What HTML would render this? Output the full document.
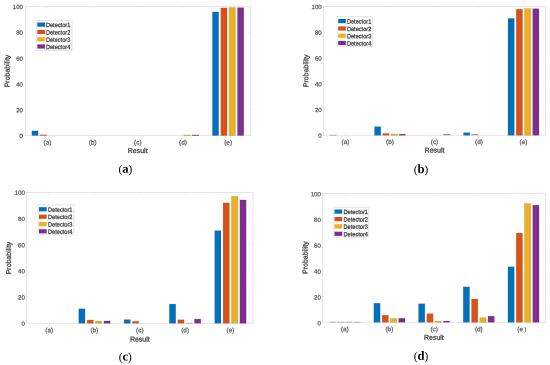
<!DOCTYPE html>
<html><head><meta charset="utf-8"><title>Detector probability charts</title>
<style>html,body{margin:0;padding:0;background:#fff}svg{display:block}text{text-rendering:geometricPrecision;stroke-linejoin:round}.s text{stroke:#484848;stroke-width:.3px;paint-order:stroke}.t text{stroke:#5a5a5a;stroke-width:.25px;fill:#5a5a5a}</style></head>
<body>
<svg width="550" height="365" viewBox="0 0 550 365">
<rect width="550" height="365" fill="#fff"/>
<g fill="none" stroke="#e5e5e5" stroke-width="1">
<rect x="25.40" y="6.50" width="224.80" height="129.05"/>
<path d="M47.50 135.55v-2.0M47.50 6.50v2.0M92.65 135.55v-2.0M92.65 6.50v2.0M137.80 135.55v-2.0M137.80 6.50v2.0M182.95 135.55v-2.0M182.95 6.50v2.0M228.10 135.55v-2.0M228.10 6.50v2.0M25.40 109.74h2.0M250.20 109.74h-2.0M25.40 83.93h2.0M250.20 83.93h-2.0M25.40 58.12h2.0M250.20 58.12h-2.0M25.40 32.31h2.0M250.20 32.31h-2.0" stroke-width=".6"/>
</g>
<rect x="31.82" y="130.90" width="6.30" height="4.65" fill="#0072BD" stroke="#000" stroke-opacity=".15" stroke-width=".7"/>
<rect x="39.87" y="134.65" width="6.90" height="1.10" fill="#d7602a"/>
<rect x="183.68" y="134.80" width="6.90" height="1.00" fill="#c9a23a"/>
<rect x="192.03" y="134.80" width="6.90" height="1.00" fill="#8a3f99"/>
<rect x="212.42" y="11.92" width="6.30" height="123.63" fill="#0072BD" stroke="#000" stroke-opacity=".15" stroke-width=".7"/>
<rect x="220.77" y="7.92" width="6.30" height="127.63" fill="#D95319" stroke="#000" stroke-opacity=".15" stroke-width=".7"/>
<rect x="229.13" y="7.53" width="6.30" height="128.02" fill="#EDB120" stroke="#000" stroke-opacity=".15" stroke-width=".7"/>
<rect x="237.48" y="7.66" width="6.30" height="127.89" fill="#7E2F8E" stroke="#000" stroke-opacity=".15" stroke-width=".7"/>
<g class="s t" font-family="'Liberation Sans', Arial, sans-serif" font-size="6.1" fill="#484848">
<text transform="translate(23.00 138.10) rotate(0.06)" text-anchor="end">0</text>
<text transform="translate(23.00 112.29) rotate(0.06)" text-anchor="end">20</text>
<text transform="translate(23.00 86.48) rotate(0.06)" text-anchor="end">40</text>
<text transform="translate(23.00 60.67) rotate(0.06)" text-anchor="end">60</text>
<text transform="translate(23.00 34.86) rotate(0.06)" text-anchor="end">80</text>
<text transform="translate(23.00 9.05) rotate(0.06)" text-anchor="end">100</text>
<text transform="translate(47.50 144.50) rotate(0.06)" text-anchor="middle" font-size="6.4">(a)</text>
<text transform="translate(92.65 144.50) rotate(0.06)" text-anchor="middle" font-size="6.4">(b)</text>
<text transform="translate(137.80 144.50) rotate(0.06)" text-anchor="middle" font-size="6.4">(c)</text>
<text transform="translate(182.95 144.50) rotate(0.06)" text-anchor="middle" font-size="6.4">(d)</text>
<text transform="translate(228.10 144.50) rotate(0.06)" text-anchor="middle" font-size="6.4">(e)</text>
</g>
<g class="s" font-family="'Liberation Sans', Arial, sans-serif" font-size="7" fill="#484848">
<text transform="translate(137.70 152.95) rotate(0.06)" text-anchor="middle">Result</text>
<text transform="translate(9.45 71.00) rotate(-90.06)" text-anchor="middle">Probability</text>
</g>
<rect x="36.40" y="20.40" width="35.60" height="30.10" fill="#fff" stroke="#e5e5e5" stroke-width="1"/>
<g class="s" font-family="'Liberation Sans', Arial, sans-serif" font-size="6.1" fill="#484848">
<rect x="37.30" y="22.50" width="7.70" height="4.2" fill="#0072BD"/>
<text transform="translate(45.90 27.00) rotate(0.06)" textLength="24.4" lengthAdjust="spacingAndGlyphs">Detector1</text>
<rect x="37.30" y="29.90" width="7.70" height="4.2" fill="#D95319"/>
<text transform="translate(45.90 34.40) rotate(0.06)" textLength="24.4" lengthAdjust="spacingAndGlyphs">Detector2</text>
<rect x="37.30" y="37.20" width="7.70" height="4.2" fill="#EDB120"/>
<text transform="translate(45.90 41.70) rotate(0.06)" textLength="24.4" lengthAdjust="spacingAndGlyphs">Detector3</text>
<rect x="37.30" y="44.40" width="7.70" height="4.2" fill="#7E2F8E"/>
<text transform="translate(45.90 48.90) rotate(0.06)" textLength="24.4" lengthAdjust="spacingAndGlyphs">Detector4</text>
</g>
<text transform="translate(125.40 172.80) rotate(0.06)" text-anchor="middle" font-family="'Liberation Serif', 'DejaVu Serif', serif" font-size="11.3" fill="#000">(<tspan font-weight="bold" font-size="12.6">a</tspan>)</text>
<g fill="none" stroke="#e5e5e5" stroke-width="1">
<rect x="323.40" y="6.50" width="222.00" height="128.80"/>
<path d="M345.50 135.30v-2.0M345.50 6.50v2.0M390.00 135.30v-2.0M390.00 6.50v2.0M434.50 135.30v-2.0M434.50 6.50v2.0M479.00 135.30v-2.0M479.00 6.50v2.0M523.50 135.30v-2.0M523.50 6.50v2.0M323.40 109.54h2.0M545.40 109.54h-2.0M323.40 83.78h2.0M545.40 83.78h-2.0M323.40 58.02h2.0M545.40 58.02h-2.0M323.40 32.26h2.0M545.40 32.26h-2.0" stroke-width=".6"/>
</g>
<rect x="329.70" y="134.85" width="6.90" height="0.8" fill="#a9a9a9"/>
<rect x="374.50" y="126.67" width="6.30" height="8.63" fill="#0072BD" stroke="#000" stroke-opacity=".15" stroke-width=".7"/>
<rect x="382.73" y="133.50" width="6.30" height="1.80" fill="#D95319" stroke="#000" stroke-opacity=".15" stroke-width=".7"/>
<rect x="390.97" y="133.88" width="6.30" height="1.42" fill="#EDB120" stroke="#000" stroke-opacity=".15" stroke-width=".7"/>
<rect x="399.20" y="134.14" width="6.30" height="1.16" fill="#7E2F8E" stroke="#000" stroke-opacity=".15" stroke-width=".7"/>
<rect x="443.40" y="133.90" width="6.90" height="1.30" fill="#a87fb2"/>
<rect x="463.50" y="132.72" width="6.30" height="2.58" fill="#0072BD" stroke="#000" stroke-opacity=".15" stroke-width=".7"/>
<rect x="471.43" y="133.90" width="6.90" height="1.30" fill="#c59e86"/>
<rect x="508.00" y="18.48" width="6.30" height="116.82" fill="#0072BD" stroke="#000" stroke-opacity=".15" stroke-width=".7"/>
<rect x="516.23" y="9.20" width="6.30" height="126.10" fill="#D95319" stroke="#000" stroke-opacity=".15" stroke-width=".7"/>
<rect x="524.47" y="8.56" width="6.30" height="126.74" fill="#EDB120" stroke="#000" stroke-opacity=".15" stroke-width=".7"/>
<rect x="532.70" y="8.69" width="6.30" height="126.61" fill="#7E2F8E" stroke="#000" stroke-opacity=".15" stroke-width=".7"/>
<g class="s t" font-family="'Liberation Sans', Arial, sans-serif" font-size="6.1" fill="#484848">
<text transform="translate(321.70 137.85) rotate(0.06)" text-anchor="end">0</text>
<text transform="translate(321.70 112.09) rotate(0.06)" text-anchor="end">20</text>
<text transform="translate(321.70 86.33) rotate(0.06)" text-anchor="end">40</text>
<text transform="translate(321.70 60.57) rotate(0.06)" text-anchor="end">60</text>
<text transform="translate(321.70 34.81) rotate(0.06)" text-anchor="end">80</text>
<text transform="translate(321.70 9.05) rotate(0.06)" text-anchor="end">100</text>
<text transform="translate(345.50 144.00) rotate(0.06)" text-anchor="middle" font-size="6.4">(a)</text>
<text transform="translate(390.00 144.00) rotate(0.06)" text-anchor="middle" font-size="6.4">(b)</text>
<text transform="translate(434.50 144.00) rotate(0.06)" text-anchor="middle" font-size="6.4">(c)</text>
<text transform="translate(479.00 144.00) rotate(0.06)" text-anchor="middle" font-size="6.4">(d)</text>
<text transform="translate(523.50 144.00) rotate(0.06)" text-anchor="middle" font-size="6.4">(e)</text>
</g>
<g class="s" font-family="'Liberation Sans', Arial, sans-serif" font-size="7" fill="#484848">
<text transform="translate(434.50 152.60) rotate(0.06)" text-anchor="middle">Result</text>
<text transform="translate(308.15 70.80) rotate(-90.06)" text-anchor="middle">Probability</text>
</g>
<rect x="337.30" y="16.50" width="35.40" height="29.90" fill="#fff" stroke="#e5e5e5" stroke-width="1"/>
<g class="s" font-family="'Liberation Sans', Arial, sans-serif" font-size="6.1" fill="#484848">
<rect x="338.20" y="19.00" width="7.70" height="4.2" fill="#0072BD"/>
<text transform="translate(346.90 23.50) rotate(0.06)" textLength="24.4" lengthAdjust="spacingAndGlyphs">Detector1</text>
<rect x="338.20" y="26.40" width="7.70" height="4.2" fill="#D95319"/>
<text transform="translate(346.90 30.90) rotate(0.06)" textLength="24.4" lengthAdjust="spacingAndGlyphs">Detector2</text>
<rect x="338.20" y="33.70" width="7.70" height="4.2" fill="#EDB120"/>
<text transform="translate(346.90 38.20) rotate(0.06)" textLength="24.4" lengthAdjust="spacingAndGlyphs">Detector3</text>
<rect x="338.20" y="40.90" width="7.70" height="4.2" fill="#7E2F8E"/>
<text transform="translate(346.90 45.40) rotate(0.06)" textLength="24.4" lengthAdjust="spacingAndGlyphs">Detector4</text>
</g>
<text transform="translate(420.90 172.90) rotate(0.06)" text-anchor="middle" font-family="'Liberation Serif', 'DejaVu Serif', serif" font-size="11.3" fill="#000">(<tspan font-weight="bold" font-size="12.6">b</tspan>)</text>
<g fill="none" stroke="#e5e5e5" stroke-width="1">
<rect x="26.50" y="192.50" width="226.60" height="130.80"/>
<path d="M49.16 323.30v-2.0M49.16 192.50v2.0M94.48 323.30v-2.0M94.48 192.50v2.0M139.80 323.30v-2.0M139.80 192.50v2.0M185.12 323.30v-2.0M185.12 192.50v2.0M230.44 323.30v-2.0M230.44 192.50v2.0M26.50 297.14h2.0M253.10 297.14h-2.0M26.50 270.98h2.0M253.10 270.98h-2.0M26.50 244.82h2.0M253.10 244.82h-2.0M26.50 218.66h2.0M253.10 218.66h-2.0" stroke-width=".6"/>
</g>
<rect x="78.75" y="308.78" width="6.30" height="14.52" fill="#0072BD" stroke="#000" stroke-opacity=".15" stroke-width=".7"/>
<rect x="87.14" y="320.03" width="6.30" height="3.27" fill="#D95319" stroke="#000" stroke-opacity=".15" stroke-width=".7"/>
<rect x="95.52" y="321.08" width="6.30" height="2.22" fill="#EDB120" stroke="#000" stroke-opacity=".15" stroke-width=".7"/>
<rect x="103.91" y="320.95" width="6.30" height="2.35" fill="#7E2F8E" stroke="#000" stroke-opacity=".15" stroke-width=".7"/>
<rect x="124.07" y="319.64" width="6.30" height="3.66" fill="#0072BD" stroke="#000" stroke-opacity=".15" stroke-width=".7"/>
<rect x="132.46" y="321.34" width="6.30" height="1.96" fill="#D95319" stroke="#000" stroke-opacity=".15" stroke-width=".7"/>
<rect x="169.39" y="304.07" width="6.30" height="19.23" fill="#0072BD" stroke="#000" stroke-opacity=".15" stroke-width=".7"/>
<rect x="177.78" y="319.77" width="6.30" height="3.53" fill="#D95319" stroke="#000" stroke-opacity=".15" stroke-width=".7"/>
<rect x="185.86" y="322.85" width="6.90" height="0.8" fill="#c9ae62"/>
<rect x="194.55" y="319.11" width="6.30" height="4.19" fill="#7E2F8E" stroke="#000" stroke-opacity=".15" stroke-width=".7"/>
<rect x="214.71" y="230.69" width="6.30" height="92.61" fill="#0072BD" stroke="#000" stroke-opacity=".15" stroke-width=".7"/>
<rect x="223.10" y="202.83" width="6.30" height="120.47" fill="#D95319" stroke="#000" stroke-opacity=".15" stroke-width=".7"/>
<rect x="231.48" y="196.29" width="6.30" height="127.01" fill="#EDB120" stroke="#000" stroke-opacity=".15" stroke-width=".7"/>
<rect x="239.87" y="199.96" width="6.30" height="123.34" fill="#7E2F8E" stroke="#000" stroke-opacity=".15" stroke-width=".7"/>
<g class="s t" font-family="'Liberation Sans', Arial, sans-serif" font-size="6.1" fill="#484848">
<text transform="translate(24.80 325.65) rotate(0.06)" text-anchor="end">0</text>
<text transform="translate(24.80 299.49) rotate(0.06)" text-anchor="end">20</text>
<text transform="translate(24.80 273.33) rotate(0.06)" text-anchor="end">40</text>
<text transform="translate(24.80 247.17) rotate(0.06)" text-anchor="end">60</text>
<text transform="translate(24.80 221.01) rotate(0.06)" text-anchor="end">80</text>
<text transform="translate(24.80 194.85) rotate(0.06)" text-anchor="end">100</text>
<text transform="translate(49.16 332.30) rotate(0.06)" text-anchor="middle" font-size="6.4">(a)</text>
<text transform="translate(94.48 332.30) rotate(0.06)" text-anchor="middle" font-size="6.4">(b)</text>
<text transform="translate(139.80 332.30) rotate(0.06)" text-anchor="middle" font-size="6.4">(c)</text>
<text transform="translate(185.12 332.30) rotate(0.06)" text-anchor="middle" font-size="6.4">(d)</text>
<text transform="translate(230.44 332.30) rotate(0.06)" text-anchor="middle" font-size="6.4">(e)</text>
</g>
<g class="s" font-family="'Liberation Sans', Arial, sans-serif" font-size="7" fill="#484848">
<text transform="translate(139.80 341.40) rotate(0.06)" text-anchor="middle">Result</text>
<text transform="translate(10.90 258.00) rotate(-90.06)" text-anchor="middle">Probability</text>
</g>
<rect x="38.20" y="204.80" width="35.60" height="29.90" fill="#fff" stroke="#e5e5e5" stroke-width="1"/>
<g class="s" font-family="'Liberation Sans', Arial, sans-serif" font-size="6.1" fill="#484848">
<rect x="39.00" y="207.20" width="7.70" height="4.2" fill="#0072BD"/>
<text transform="translate(48.00 211.70) rotate(0.06)" textLength="24.4" lengthAdjust="spacingAndGlyphs">Detector1</text>
<rect x="39.00" y="214.60" width="7.70" height="4.2" fill="#D95319"/>
<text transform="translate(48.00 219.10) rotate(0.06)" textLength="24.4" lengthAdjust="spacingAndGlyphs">Detector2</text>
<rect x="39.00" y="222.00" width="7.70" height="4.2" fill="#EDB120"/>
<text transform="translate(48.00 226.50) rotate(0.06)" textLength="24.4" lengthAdjust="spacingAndGlyphs">Detector3</text>
<rect x="39.00" y="229.20" width="7.70" height="4.2" fill="#7E2F8E"/>
<text transform="translate(48.00 233.70) rotate(0.06)" textLength="24.4" lengthAdjust="spacingAndGlyphs">Detector4</text>
</g>
<text transform="translate(125.30 360.50) rotate(0.06)" text-anchor="middle" font-family="'Liberation Serif', 'DejaVu Serif', serif" font-size="11.3" fill="#000">(<tspan font-weight="bold" font-size="12.6">c</tspan>)</text>
<g fill="none" stroke="#e5e5e5" stroke-width="1">
<rect x="322.50" y="193.50" width="222.90" height="128.80"/>
<path d="M344.70 322.30v-2.0M344.70 193.50v2.0M389.40 322.30v-2.0M389.40 193.50v2.0M434.10 322.30v-2.0M434.10 193.50v2.0M478.80 322.30v-2.0M478.80 193.50v2.0M523.50 322.30v-2.0M523.50 193.50v2.0M322.50 296.54h2.0M545.40 296.54h-2.0M322.50 270.78h2.0M545.40 270.78h-2.0M322.50 245.02h2.0M545.40 245.02h-2.0M322.50 219.26h2.0M545.40 219.26h-2.0" stroke-width=".6"/>
</g>
<rect x="328.85" y="321.85" width="6.90" height="0.8" fill="#a9a9a9"/>
<rect x="337.12" y="321.85" width="6.90" height="0.8" fill="#b89e90"/>
<rect x="345.38" y="321.85" width="6.90" height="0.8" fill="#a9a9a9"/>
<rect x="353.65" y="321.85" width="6.90" height="0.8" fill="#a9a9a9"/>
<rect x="373.85" y="303.24" width="6.30" height="19.06" fill="#0072BD" stroke="#000" stroke-opacity=".15" stroke-width=".7"/>
<rect x="382.12" y="315.22" width="6.30" height="7.08" fill="#D95319" stroke="#000" stroke-opacity=".15" stroke-width=".7"/>
<rect x="390.38" y="318.56" width="6.30" height="3.74" fill="#EDB120" stroke="#000" stroke-opacity=".15" stroke-width=".7"/>
<rect x="398.65" y="318.31" width="6.30" height="3.99" fill="#7E2F8E" stroke="#000" stroke-opacity=".15" stroke-width=".7"/>
<rect x="418.55" y="303.75" width="6.30" height="18.55" fill="#0072BD" stroke="#000" stroke-opacity=".15" stroke-width=".7"/>
<rect x="426.82" y="313.67" width="6.30" height="8.63" fill="#D95319" stroke="#000" stroke-opacity=".15" stroke-width=".7"/>
<rect x="435.08" y="321.14" width="6.30" height="1.16" fill="#EDB120" stroke="#000" stroke-opacity=".15" stroke-width=".7"/>
<rect x="443.35" y="321.01" width="6.30" height="1.29" fill="#7E2F8E" stroke="#000" stroke-opacity=".15" stroke-width=".7"/>
<rect x="463.25" y="286.88" width="6.30" height="35.42" fill="#0072BD" stroke="#000" stroke-opacity=".15" stroke-width=".7"/>
<rect x="471.52" y="298.99" width="6.30" height="23.31" fill="#D95319" stroke="#000" stroke-opacity=".15" stroke-width=".7"/>
<rect x="479.78" y="317.66" width="6.30" height="4.64" fill="#EDB120" stroke="#000" stroke-opacity=".15" stroke-width=".7"/>
<rect x="488.05" y="316.12" width="6.30" height="6.18" fill="#7E2F8E" stroke="#000" stroke-opacity=".15" stroke-width=".7"/>
<rect x="507.95" y="266.79" width="6.30" height="55.51" fill="#0072BD" stroke="#000" stroke-opacity=".15" stroke-width=".7"/>
<rect x="516.22" y="233.04" width="6.30" height="89.26" fill="#D95319" stroke="#000" stroke-opacity=".15" stroke-width=".7"/>
<rect x="524.48" y="203.55" width="6.30" height="118.75" fill="#EDB120" stroke="#000" stroke-opacity=".15" stroke-width=".7"/>
<rect x="532.75" y="205.22" width="6.30" height="117.08" fill="#7E2F8E" stroke="#000" stroke-opacity=".15" stroke-width=".7"/>
<g class="s t" font-family="'Liberation Sans', Arial, sans-serif" font-size="6.1" fill="#484848">
<text transform="translate(320.90 325.15) rotate(0.06)" text-anchor="end">0</text>
<text transform="translate(320.90 299.39) rotate(0.06)" text-anchor="end">20</text>
<text transform="translate(320.90 273.63) rotate(0.06)" text-anchor="end">40</text>
<text transform="translate(320.90 247.87) rotate(0.06)" text-anchor="end">60</text>
<text transform="translate(320.90 222.11) rotate(0.06)" text-anchor="end">80</text>
<text transform="translate(320.90 196.35) rotate(0.06)" text-anchor="end">100</text>
<text transform="translate(344.70 331.30) rotate(0.06)" text-anchor="middle" font-size="6.4">(a)</text>
<text transform="translate(389.40 331.30) rotate(0.06)" text-anchor="middle" font-size="6.4">(b)</text>
<text transform="translate(434.10 331.30) rotate(0.06)" text-anchor="middle" font-size="6.4">(c)</text>
<text transform="translate(478.80 331.30) rotate(0.06)" text-anchor="middle" font-size="6.4">(d)</text>
<text transform="translate(521.80 331.30) rotate(0.06)" text-anchor="middle" font-size="6.4">(e<tspan dx="1.4" font-size="5.4">)</tspan></text>
</g>
<g class="s" font-family="'Liberation Sans', Arial, sans-serif" font-size="7" fill="#484848">
<text transform="translate(433.90 339.70) rotate(0.06)" text-anchor="middle">Result</text>
<text transform="translate(307.50 257.60) rotate(-90.06)" text-anchor="middle">Probability</text>
</g>
<rect x="333.80" y="207.30" width="35.00" height="29.90" fill="#fff" stroke="#e5e5e5" stroke-width="1"/>
<g class="s" font-family="'Liberation Sans', Arial, sans-serif" font-size="6.1" fill="#484848">
<rect x="334.50" y="209.50" width="7.70" height="4.2" fill="#0072BD"/>
<text transform="translate(343.50 214.00) rotate(0.06)" textLength="24.4" lengthAdjust="spacingAndGlyphs">Detector1</text>
<rect x="334.50" y="217.00" width="7.70" height="4.2" fill="#D95319"/>
<text transform="translate(343.50 221.50) rotate(0.06)" textLength="24.4" lengthAdjust="spacingAndGlyphs">Detector2</text>
<rect x="334.50" y="224.30" width="7.70" height="4.2" fill="#EDB120"/>
<text transform="translate(343.50 228.80) rotate(0.06)" textLength="24.4" lengthAdjust="spacingAndGlyphs">Detector3</text>
<rect x="334.50" y="231.70" width="7.70" height="4.2" fill="#7E2F8E"/>
<text transform="translate(343.50 236.20) rotate(0.06)" textLength="24.4" lengthAdjust="spacingAndGlyphs">Detector4</text>
</g>
<text transform="translate(420.90 359.80) rotate(0.06)" text-anchor="middle" font-family="'Liberation Serif', 'DejaVu Serif', serif" font-size="11.3" fill="#000">(<tspan font-weight="bold" font-size="12.6">d</tspan>)</text>
</svg>
</body></html>
